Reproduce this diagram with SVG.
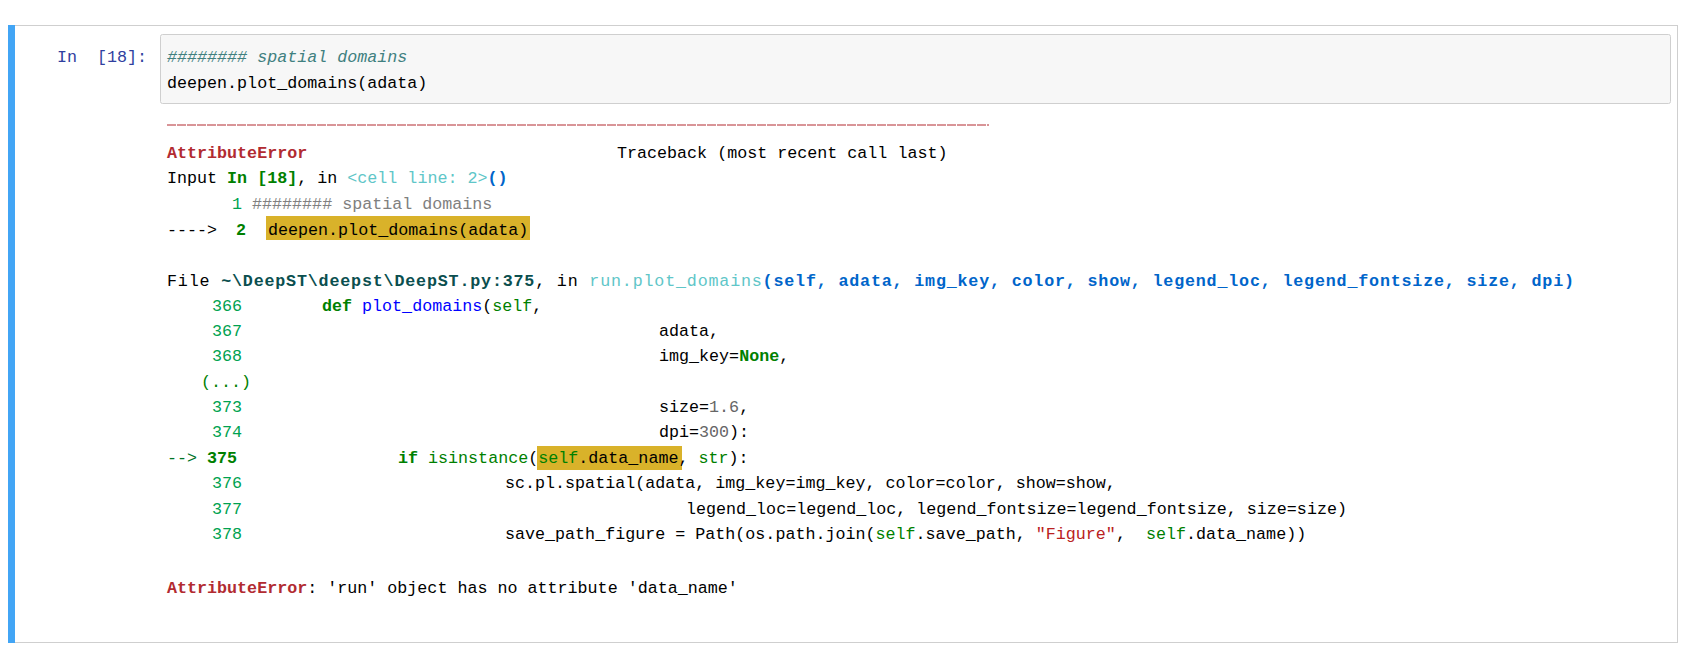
<svg xmlns="http://www.w3.org/2000/svg" width="1687" height="646" viewBox="0 0 1687 646">
<style>
text{font-family:"Liberation Mono","DejaVu Sans Mono",monospace;font-size:16.7px;fill:#000;white-space:pre}
.g{fill:#008000}.gb{fill:#008000;font-weight:bold}.ln{fill:#00a250}.r{fill:#b22b31;font-weight:bold}
.c{fill:#60c6c8}.bl{fill:#0065ca;font-weight:bold}.gr{fill:#808080}.n{fill:#666}.s{fill:#ba2121}
.hl{fill:#d9b22a}
</style>
<rect width="1687" height="646" fill="#fff"/>
<g id="cell">
<rect x="14.5" y="25.5" width="1663" height="617" fill="#fff" stroke="#cfcfcf"/>
<rect x="8" y="25" width="7" height="618" fill="#42a5f5"/>
<text x="57" y="62" style="fill:#303f9f">In  [18]:</text>
<rect x="160.5" y="34.5" width="1510" height="69" rx="2" fill="#f7f7f7" stroke="#cfcfcf"/>
<text x="167" y="62" style="fill:#408080;font-style:italic">######## spatial domains</text>
<text x="167" y="88">deepen.plot_domains(adata)</text>
</g>
<g id="traceback">
<line x1="167" y1="125" x2="989" y2="125" stroke="#b22b31" stroke-dasharray="9,1"/>
<text x="167" y="158" class="r">AttributeError</text>
<text x="617" y="158">Traceback (most recent call last)</text>
<text x="167" y="183">Input <tspan class="gb">In [18]</tspan>, in <tspan class="c">&lt;cell line: 2&gt;</tspan><tspan class="bl">()</tspan></text>
<text x="232" y="209"><tspan class="ln">1</tspan> <tspan class="gr">######## spatial domains</tspan></text>
<rect x="266" y="216" width="264" height="24" class="hl"/>
<text x="167" y="235" fill="#007427">----&gt;</text>
<text x="236" y="235" class="gb">2</text>
<text x="268" y="235">deepen.plot_domains(adata)</text>
<text x="167" y="286" textLength="1407" lengthAdjust="spacing">File <tspan font-weight="bold" fill="#0b4f4f">~\DeepST\deepst\DeepST.py:375</tspan>, in <tspan class="c">run.plot_domains</tspan><tspan class="bl">(self, adata, img_key, color, show, legend_loc, legend_fontsize, size, dpi)</tspan></text>
<text x="212" y="311" class="ln">366</text>
<text x="322" y="311"><tspan class="gb">def</tspan> <tspan fill="#0000ff">plot_domains</tspan>(<tspan class="g">self</tspan>,</text>
<text x="212" y="336" class="ln">367</text><text x="659" y="336">adata,</text>
<text x="212" y="361" class="ln">368</text><text x="659" y="361">img_key=<tspan class="gb">None</tspan>,</text>
<text x="201" y="387" class="g">(...)</text>
<text x="212" y="412" class="ln">373</text><text x="659" y="412">size=<tspan class="n">1.6</tspan>,</text>
<text x="212" y="437" class="ln">374</text><text x="659" y="437">dpi=<tspan class="n">300</tspan>):</text>
<rect x="537" y="446" width="145" height="24" class="hl"/>
<text x="167" y="463"><tspan fill="#007427">--&gt;</tspan> <tspan class="gb">375</tspan></text>
<text x="398" y="463"><tspan class="gb">if</tspan> <tspan class="g">isinstance</tspan>(<tspan class="g">self</tspan>.data_name, <tspan class="g">str</tspan>):</text>
<text x="212" y="488" class="ln">376</text><text x="505" y="488">sc.pl.spatial(adata, img_key=img_key, color=color, show=show,</text>
<text x="212" y="514" class="ln">377</text><text x="686" y="514">legend_loc=legend_loc, legend_fontsize=legend_fontsize, size=size)</text>
<text x="212" y="539" class="ln">378</text><text x="505" y="539">save_path_figure = Path(os.path.join(<tspan class="g">self</tspan>.save_path, <tspan class="s">"Figure"</tspan>,  <tspan class="g">self</tspan>.data_name))</text>
<text x="167" y="593"><tspan class="r">AttributeError</tspan>: 'run' object has no attribute 'data_name'</text>
</g>
</svg>
